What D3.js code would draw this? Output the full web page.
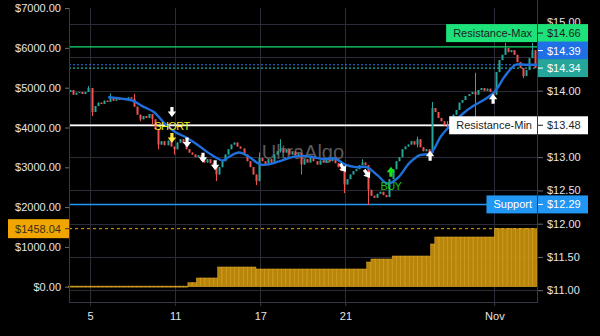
<!DOCTYPE html>
<html><head><meta charset="utf-8">
<script src="https://cdn.jsdelivr.net/npm/d3@7"></script>
<style>html,body{margin:0;padding:0;background:#000;overflow:hidden}svg{display:block}</style>
</head><body><svg id="c" width="600" height="336"></svg>
<script>
// ---------- DATA ----------
const barsPerDay = 7;
const firstOpen = 13.98;
const closes = [
 14.01,13.94,13.97,13.98,13.95,13.98,14.04,
 13.68,13.77,13.82,13.80,13.85,13.83,13.89,
 13.85,13.88,13.86,13.89,13.86,13.90,13.88,
 13.76,13.64,13.57,13.62,13.59,13.65,13.57,
 13.42,13.19,13.24,13.18,13.25,13.16,13.12,
 13.22,13.27,13.21,13.12,13.07,13.04,13.00,
 13.03,12.95,12.92,12.97,12.91,12.88,12.74,
 12.85,12.94,13.04,13.12,13.19,13.22,13.16,
 13.13,13.04,12.94,12.85,12.74,12.64,12.99,
 12.94,12.88,12.97,12.92,13.04,13.09,13.12,
 13.07,13.12,13.04,13.09,13.03,13.06,12.89,
 12.97,12.92,13.00,12.94,12.89,12.95,12.92,
 12.97,12.94,13.00,12.91,12.85,12.79,12.59,
 12.67,12.74,12.79,12.82,12.88,12.92,12.88,
 12.51,12.42,12.39,12.45,12.48,12.43,12.40,
 12.67,12.82,12.94,13.00,13.12,13.16,13.19,
 13.24,13.19,13.27,13.15,13.09,13.12,13.06,
 13.74,13.68,13.59,13.54,13.48,13.45,13.54,
 13.64,13.71,13.82,13.86,13.92,13.95,13.98,
 13.94,14.01,14.04,14.00,14.03,13.98,13.94,
 14.28,14.46,14.54,14.64,14.58,14.61,14.54,
 14.43,14.34,14.22,14.31,14.49,14.61,14.34
];
const wickBars  = [6,7,13,21,23,27,29,34,48,61,62,69,76,90,96,98,114,119,124,133,143,149,152];
const wickHighs = [14.07,14.04,13.96,13.95,13.64,13.65,13.42,13.16,12.88,12.74,13.07,13.27,13.06,12.79,12.97,12.88,13.31,13.83,13.54,14.27,14.72,14.34,14.72];
const wickLows  = [13.98,13.62,13.83,13.76,13.54,13.49,13.12,13.04,12.64,12.58,12.64,13.07,12.74,12.46,12.88,12.28,13.15,13.06,13.42,13.60,14.54,14.19,14.49];

const maDays   = [1.85,2,2.5,3,3.5,4,4.5,5,5.5,6,6.5,7,7.25,7.5,8,8.5,9,9.5,10,10.5,11,11.5,12,12.5,13,13.5,14,14.5,15,15.5,16,16.5,17,17.5,18,18.5,19,19.5,20,20.5,21,21.5,22.05];
const maValues = [13.90,13.90,13.88,13.85,13.76,13.68,13.51,13.38,13.30,13.20,13.08,12.98,12.95,13.00,13.07,13.00,12.89,12.90,12.95,13.00,13.02,13.00,12.97,12.98,12.89,12.85,12.85,12.73,12.60,12.70,12.91,13.03,13.06,13.32,13.50,13.65,13.77,13.86,13.98,14.22,14.39,14.39,14.39];

const equityPerDay = 5;
const equity = [
 15,15,15,15,15,15,15,15,15,15,15,15,15,15,15,15,15,15,15,15,15,15,15,15,15,15,15,15,
 100,100,
 219,219,219,219,219,
 495,495,495,495,495,495,495,495,495,
 445,445,445,445,445,445,445,445,445,445,445,445,445,445,445,445,445,445,445,445,445,445,445,445,445,445,
 620,
 696,696,696,696,696,
 771,771,771,771,771,771,771,771,771,
 1073,
 1249,1249,1249,1249,1249,1249,1249,1249,1249,1249,1249,1249,1249,1249,
 1458.04,1458.04,1458.04,1458.04,1458.04,1458.04,1458.04,1458.04,1458.04,1458.04
];

const xTickDays   = [1,5,9,13,20];
const xTickLabels = ["5","11","17","21","Nov"];
const leftTicks  = [0,1000,2000,3000,4000,5000,6000,7000];
const rightTicks = [11,11.5,12,12.5,13,13.5,14,14.5,15];

const resistanceMax = 14.66, resistanceMin = 13.48, support = 12.29;
const maLast = 14.39, lastClose = 14.34, equityLast = 1458.04;

const signalDays   = [4.85,4.85,5.56,6.31,6.88,12.89,14.02,16.98,19.94,15.14];
const signalPrices = [13.68,13.29,13.22,12.99,12.88,12.84,12.75,13.02,13.88,12.78];
const signalKinds  = ["down","down","down","down","down","down","down","up","up","up"];
const signalColors = ["#ffffff","#ffeb3b","#ffffff","#ffffff","#ffffff","#ffffff","#ffffff","#ffffff","#ffffff","#19e01f"];
const signalTilt   = [0,0,0,0,0,-35,-35,0,0,0];
const signalTexts  = ["SHORT","BUY"];
const signalTextDays = [4.85,15.14];
const signalTextPrices = [13.47,12.57];
const signalTextColors = ["#f5ee1e","#19c41f"];

// ---------- LAYOUT ----------
const svg = d3.select("#c");
const FONT = "'Liberation Sans', Arial, sans-serif";
const L = 69, R = 538, T = 8, B = 302;
const x = d3.scaleLinear().domain([0,22.05]).range([68.7,538]);
const yR = d3.scaleLinear().domain([11,15]).range([290.2,24.2]);
const yL = d3.scaleLinear().domain([0,7000]).range([286.7,8.1]);

svg.append("rect").attr("width",600).attr("height",336).attr("fill","#000");

const grid = svg.append("g");
grid.selectAll("line.h").data(rightTicks).join("line")
  .attr("x1",L).attr("x2",R).attr("y1",d=>Math.round(yR(d))+0.5).attr("y2",d=>Math.round(yR(d))+0.5)
  .attr("stroke","#2c2c38").attr("stroke-width",1);
grid.selectAll("line.v").data(xTickDays).join("line")
  .attr("x1",d=>Math.round(x(d))+0.5).attr("x2",d=>Math.round(x(d))+0.5).attr("y1",T).attr("y2",306)
  .attr("stroke","#2c2c38").attr("stroke-width",1);

// watermark
svg.append("text").attr("x",303).attr("y",152).attr("text-anchor","middle").attr("dominant-baseline","central")
  .attr("font-family",FONT).attr("font-size",20).attr("fill","#5a5a5a").text("UltraAlgo");

// equity bars
const eqW = x(1/equityPerDay) - x(0);
svg.append("g").selectAll("rect").data(equity).join("rect")
  .attr("x",(d,i)=>x(i/equityPerDay))
  .attr("width",eqW)
  .attr("y",d=>yL(d))
  .attr("height",d=>Math.max(1,yL(0)-yL(d)))
  .attr("fill","#c8900c").attr("fill-opacity",0.92)
  .attr("stroke","#e2aa2c").attr("stroke-width",0.5);

// horizontal level lines
svg.append("line").attr("x1",L).attr("x2",R-1).attr("y1",yL(equityLast)).attr("y2",yL(equityLast))
  .attr("stroke","#e6a312").attr("stroke-dasharray","3,3").attr("stroke-width",1);
svg.append("line").attr("x1",L).attr("x2",R-1).attr("y1",yR(resistanceMax)).attr("y2",yR(resistanceMax))
  .attr("stroke","#16e06e").attr("stroke-width",1.2);
svg.append("line").attr("x1",L).attr("x2",R-1).attr("y1",yR(maLast)).attr("y2",yR(maLast))
  .attr("stroke","#2a7af0").attr("stroke-dasharray","2,2").attr("stroke-width",1.2);
svg.append("line").attr("x1",L).attr("x2",R-1).attr("y1",yR(lastClose)).attr("y2",yR(lastClose))
  .attr("stroke","#22b0a6").attr("stroke-dasharray","2,2").attr("stroke-width",1.2);
svg.append("line").attr("x1",L).attr("x2",R-1).attr("y1",yR(resistanceMin)).attr("y2",yR(resistanceMin))
  .attr("stroke","#ffffff").attr("stroke-width",1.8);
svg.append("line").attr("x1",L).attr("x2",R-1).attr("y1",yR(support)).attr("y2",yR(support))
  .attr("stroke","#2196f3").attr("stroke-width",1.5);

// candles
const candles = closes.map((c,i)=>{
  const o = i===0 ? firstOpen : closes[i-1];
  let h = Math.max(o,c), l = Math.min(o,c);
  const wi = wickBars.indexOf(i);
  if (wi>=0){ h = Math.max(h,wickHighs[wi]); l = Math.min(l,wickLows[wi]); }
  return {i,o,c,h,l};
});
const cx = d => x((d.i+0.5)/barsPerDay);
const up = "#26a69a", dn = "#ef5350";
const cg = svg.append("g");
cg.selectAll("line").data(candles).join("line")
  .attr("x1",d=>Math.round(cx(d))+0.5).attr("x2",d=>Math.round(cx(d))+0.5)
  .attr("y1",d=>yR(d.h)).attr("y2",d=>yR(d.l))
  .attr("stroke",d=>d.c>=d.o?up:dn).attr("stroke-width",1);
cg.selectAll("rect").data(candles).join("rect")
  .attr("x",d=>Math.round(cx(d))-0.5).attr("width",2)
  .attr("y",d=>yR(Math.max(d.o,d.c)))
  .attr("height",d=>Math.max(1,Math.abs(yR(d.o)-yR(d.c))))
  .attr("fill",d=>d.c>=d.o?up:dn);

// MA line
const maPts = maDays.map((d,i)=>[d,maValues[i]]);
svg.append("path").datum(maPts)
  .attr("d",d3.line().x(d=>x(d[0])).y(d=>yR(d[1])).curve(d3.curveCatmullRom.alpha(0.5)))
  .attr("fill","none").attr("stroke","#1f6fdc").attr("stroke-width",2.4).attr("stroke-linejoin","round");

// signals
const arrowDown = "M-1.6,-5 L1.6,-5 L1.6,-0.5 L4.2,-0.5 L0,5 L-4.2,-0.5 L-1.6,-0.5 Z";
const sg = svg.append("g");
signalDays.forEach((d,i)=>{
  const rot = (signalKinds[i]==="up"?180:0) + signalTilt[i];
  sg.append("path").attr("d",arrowDown)
    .attr("transform",`translate(${x(d)},${yR(signalPrices[i])}) rotate(${rot})`)
    .attr("fill",signalColors[i]);
});
signalTexts.forEach((t,i)=>{
  sg.append("text").attr("x",x(signalTextDays[i])).attr("y",yR(signalTextPrices[i]))
    .attr("text-anchor","middle").attr("dominant-baseline","central")
    .attr("font-family",FONT).attr("font-size",11).attr("fill",signalTextColors[i])
    .attr("letter-spacing",-0.6).text(t);
});

// frame
svg.append("line").attr("x1",L+0.5).attr("x2",L+0.5).attr("y1",T).attr("y2",B).attr("stroke","#363848");
svg.append("line").attr("x1",R-0.5).attr("x2",R-0.5).attr("y1",0).attr("y2",B).attr("stroke","#363848");
svg.append("line").attr("x1",L).attr("x2",R).attr("y1",B+0.5).attr("y2",B+0.5).attr("stroke","#363848");

// right price labels (positions resolved before axes so hidden ticks can be skipped)
const rightLabels = [
  {price:resistanceMax, title:"Resistance-Max", bg:"#1de27a", fg:"#1e1e1e"},
  {price:maLast, bg:"#1f6fe6", fg:"#ffffff"},
  {price:lastClose, bg:"#26a69a", fg:"#ffffff"},
  {price:resistanceMin, title:"Resistance-Min", bg:"#ffffff", fg:"#1e1e1e"},
  {price:support, title:"Support", bg:"#2196f3", fg:"#ffffff"}
];
const LH = 17.5;
rightLabels.forEach(l=>l.cy=yR(l.price));
const sorted = rightLabels.slice().sort((a,b)=>b.cy-a.cy);
for (let k=1;k<sorted.length;k++){
  sorted[k].cy = Math.min(sorted[k].cy, sorted[k-1].cy - LH);
}
const hiddenTick = v => rightLabels.some(l=>Math.abs(yR(v)-l.cy) < 7.5);

// axes
const fmt = d => "$" + d.toFixed(2);
const axL = svg.append("g").attr("transform",`translate(${L},0)`)
  .call(d3.axisLeft(yL).tickValues(leftTicks).tickFormat(fmt).tickSize(4).tickPadding(4));
const axR = svg.append("g").attr("transform",`translate(${R},0)`)
  .call(d3.axisRight(yR).tickValues(rightTicks.filter(v=>!hiddenTick(v))).tickFormat(fmt).tickSize(5).tickPadding(4));
const axB = svg.append("g").attr("transform",`translate(0,${B})`)
  .call(d3.axisBottom(x).tickValues(xTickDays).tickFormat((d,i)=>xTickLabels[i]).tickSize(4).tickPadding(6));
[axL,axR,axB].forEach(a=>{
  a.select(".domain").remove();
  a.selectAll("line").attr("stroke","#6a6d78");
  a.selectAll("text").attr("font-family",FONT).attr("font-size",11).attr("fill","#e4e4e8");
});
axB.selectAll("line").attr("stroke","#2c2c38");
// the top tick label sits just above the stacked label boxes
axR.selectAll(".tick").filter(d=>d===15).select("text").attr("dy","0.1em");

const lg = svg.append("g");
rightLabels.forEach(l=>{
  lg.append("rect").attr("x",R).attr("y",l.cy-9).attr("width",50).attr("height",18).attr("fill",l.bg);
  lg.append("line").attr("x1",R).attr("x2",R+5).attr("y1",l.cy).attr("y2",l.cy).attr("stroke",l.fg);
  lg.append("text").attr("x",R+9).attr("y",l.cy).attr("dominant-baseline","central")
    .attr("font-family",FONT).attr("font-size",11).attr("fill",l.fg).text(fmt(l.price));
  if (l.title){
    const g = lg.append("g");
    const r = g.append("rect").attr("y",l.cy-9).attr("height",18).attr("fill",l.bg);
    const t = g.append("text").attr("x",R-6).attr("y",l.cy).attr("text-anchor","end").attr("dominant-baseline","central")
      .attr("font-family",FONT).attr("font-size",11).attr("fill",l.fg).text(l.title);
    const w = t.node().getComputedTextLength();
    r.attr("x",R-6-w-7).attr("width",w+12);
  }
});

// left equity label
const ey = yL(equityLast);
svg.append("rect").attr("x",8).attr("y",ey-9.5).attr("width",L-8).attr("height",19).attr("fill","#f0a500");
svg.append("line").attr("x1",L-4).attr("x2",L).attr("y1",ey).attr("y2",ey).attr("stroke","#333");
svg.append("text").attr("x",L-8).attr("y",ey).attr("text-anchor","end").attr("dominant-baseline","central")
  .attr("font-family",FONT).attr("font-size",11).attr("fill","#3a3020").text(fmt(equityLast));
</script>
</body></html>
